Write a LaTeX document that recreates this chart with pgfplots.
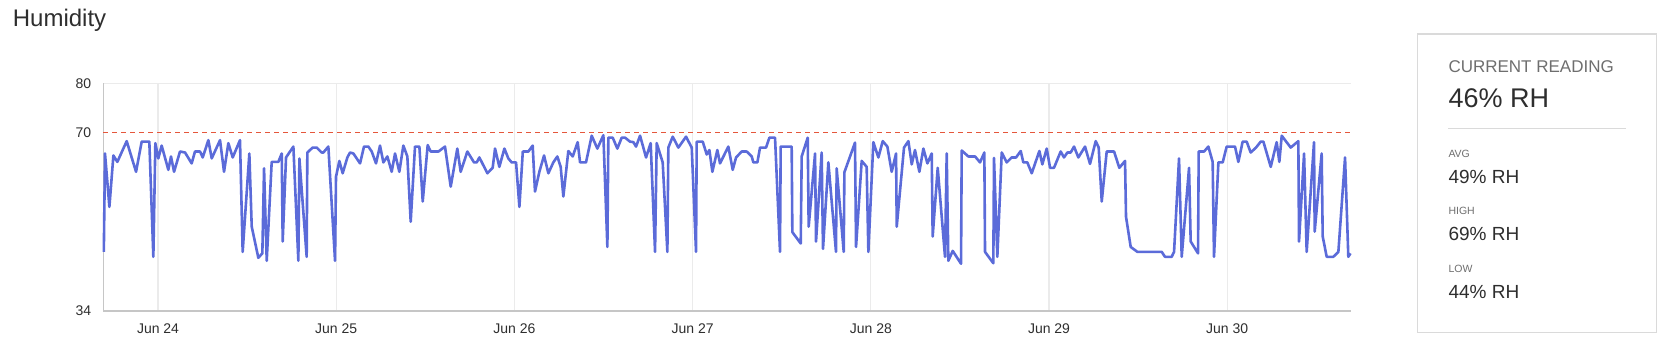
\documentclass[border=0pt]{standalone}
\usepackage{pgfplots}
\pgfplotsset{compat=1.18}
\usepackage{pgfplotstable}
\usepackage{fontspec}
\setmainfont{Liberation Sans}
\definecolor{hline}{HTML}{5B6BD9}
\definecolor{refred}{HTML}{E5573C}
\definecolor{gridgray}{HTML}{EBEBEB}
\definecolor{axgray}{HTML}{C6C6C6}
\definecolor{txtdark}{HTML}{2E2E2E}
\definecolor{txtgray}{HTML}{6E6E6E}
\definecolor{boxgray}{HTML}{DADADA}

\pgfplotstableread{
h v
-7.30 45.9
-7.14 65.8
-6.55 55.0
-6.01 65.4
-5.48 64.1
-4.22 68.3
-2.96 62.1
-2.20 68.2
-1.17 68.2
-0.63 44.9
-0.36 67.9
0.04 64.8
0.49 67.4
1.39 62.5
1.75 65.2
2.16 62.1
2.96 66.2
3.64 66.0
4.53 63.8
4.98 66.2
5.66 66.2
6.02 65.0
6.78 68.5
7.23 64.8
8.35 68.5
8.89 62.1
9.47 67.9
10.06 65.0
11.04 68.5
11.40 45.9
12.30 65.8
12.62 51.0
13.51 44.7
14.05 45.6
14.28 62.8
14.64 44.1
15.31 64.1
16.21 64.1
16.66 65.8
16.79 48.0
17.24 65.0
18.23 67.2
18.90 44.1
19.04 64.8
20.02 44.9
20.11 66.0
20.83 67.0
21.37 67.0
22.04 66.0
22.27 66.0
22.94 67.2
23.84 44.1
23.97 61.1
24.42 64.3
24.87 61.8
25.50 65.0
25.86 66.0
26.31 65.8
27.21 63.8
27.74 67.2
28.33 67.2
28.78 66.2
29.36 63.8
29.90 67.4
30.35 64.0
30.89 65.2
31.47 62.1
31.92 65.8
32.50 62.1
33.04 67.4
33.58 65.2
34.03 52.0
34.61 67.2
35.20 67.2
35.65 56.1
36.32 67.5
36.72 66.2
37.76 66.2
38.65 67.2
39.42 59.1
40.31 66.8
40.76 62.1
41.66 66.2
42.56 64.0
42.92 64.0
43.28 65.0
44.36 61.8
45.07 62.9
45.39 66.8
45.97 63.1
46.65 66.8
47.18 64.8
47.63 64.0
48.22 64.0
48.67 55.0
49.13 66.2
49.88 66.2
50.46 67.4
50.77 58.1
51.36 62.1
51.99 65.4
52.57 61.8
53.24 64.0
53.78 65.2
54.23 63.1
54.59 57.1
55.26 66.3
55.85 65.2
56.52 68.1
56.84 64.0
57.64 64.0
58.41 69.4
59.17 66.8
59.98 69.5
60.52 46.9
60.65 69.0
61.24 69.0
61.86 66.8
62.45 69.0
62.90 69.0
63.57 68.2
64.02 68.1
64.38 67.2
64.92 69.4
65.73 65.0
66.35 67.9
66.94 45.9
67.16 67.9
67.97 64.0
68.60 45.9
68.73 67.0
69.32 69.2
70.08 67.0
71.11 69.2
71.88 67.0
72.46 45.9
72.55 68.2
73.36 68.2
73.90 65.6
74.26 66.5
74.66 62.1
75.33 66.5
75.69 63.8
76.81 67.2
77.40 62.5
77.85 65.0
78.61 66.2
79.28 66.2
79.96 65.2
80.18 64.0
80.72 64.0
81.08 67.0
81.89 67.0
82.34 69.0
83.10 69.0
83.77 45.9
83.86 67.2
85.34 67.2
85.43 49.9
86.56 47.6
86.69 65.2
87.50 69.0
87.63 51.0
88.49 65.8
88.62 48.0
89.38 66.0
89.56 46.5
90.28 64.0
91.31 45.9
91.40 62.8
92.35 45.9
92.44 62.0
93.87 68.0
94.01 46.9
94.77 64.3
95.44 63.1
95.67 45.9
96.34 68.1
97.02 65.0
97.60 68.3
98.23 67.2
98.81 62.1
99.40 65.8
99.49 51.0
100.47 67.0
101.06 68.3
101.51 63.6
101.95 66.5
102.54 62.1
103.08 66.8
103.62 63.8
104.20 65.8
104.33 49.0
105.01 62.9
105.99 44.9
106.22 65.8
106.44 44.1
107.03 46.1
108.15 43.5
108.24 66.4
109.14 65.2
110.04 65.2
110.71 64.0
111.29 66.0
111.38 45.9
112.50 43.6
112.59 64.9
113.04 44.9
113.63 66.0
114.30 64.0
114.97 65.0
115.56 65.0
116.19 66.3
116.54 64.0
117.08 64.0
117.67 61.8
118.70 66.3
119.10 63.6
119.69 66.8
120.14 62.9
120.67 62.9
121.57 66.2
122.02 65.0
122.47 66.0
122.92 66.0
123.37 67.2
123.95 65.0
124.85 67.2
125.52 63.7
126.29 68.3
126.69 67.0
127.10 56.1
127.77 66.2
128.76 66.2
129.47 62.9
130.24 64.3
130.37 53.0
131.00 46.9
131.90 45.9
135.18 45.9
135.62 44.9
136.52 44.9
136.84 45.9
137.51 64.8
137.87 44.9
138.86 62.9
139.08 48.0
140.07 45.6
140.16 66.2
140.88 66.2
141.46 67.2
142.04 64.1
142.22 44.9
142.81 64.0
143.39 64.0
143.93 67.2
145.05 67.2
145.50 64.1
146.08 68.2
146.62 68.2
147.16 66.0
147.88 67.0
148.51 68.2
148.87 68.2
149.86 63.1
150.66 68.1
151.02 64.1
151.34 69.4
152.55 67.0
153.58 68.3
153.67 48.0
154.35 65.8
154.70 45.9
155.69 68.1
155.78 50.0
156.72 65.8
156.86 49.0
157.40 44.9
158.29 44.9
158.97 45.9
159.87 65.0
160.31 44.9
160.60 45.6
}\humid

\begin{document}
\begin{tikzpicture}[x=1pt,y=1pt]
\useasboundingbox (0,0) rectangle (1676,360);
\node[anchor=base west, inner sep=0pt, text=txtdark, font=\fontsize{24}{28}\selectfont] at (12.7,334) {Humidity};
\begin{axis}[
  at={(103.3pt,49.3pt)}, anchor=south west,
  scale only axis, width=1247.4pt, height=227.4pt,
  xmin=-7.37, xmax=160.63, ymin=34, ymax=80,
  axis line style={draw=none},
  xtick={0,24,48,72,96,120,144},
  xticklabels={Jun 24,Jun 25,Jun 26,Jun 27,Jun 28,Jun 29,Jun 30},
  ytick={34,70,80},
  major tick length=0pt,
  xmajorgrids, grid style={draw=gridgray, line width=1.3pt},
  /pgf/number format/assume math mode=true,
  xticklabel style={font=\fontsize{14}{16}\selectfont, text=txtdark, inner sep=0pt, anchor=north, yshift=-13pt},
  yticklabel style={font=\fontsize{14}{16}\selectfont, text=txtdark, inner sep=0pt, anchor=east, xshift=-12pt},
  clip=false,
]
\draw[gridgray, line width=1.3pt] (rel axis cs:0,1) -- (rel axis cs:1,1);
\draw[axgray, line width=1.5pt] (rel axis cs:0,0) -- (rel axis cs:0,1);
\draw[axgray, line width=2pt] (rel axis cs:0,0) -- (rel axis cs:1,0);
\addplot[refred, line width=1.5pt, dash pattern=on 5pt off 4pt] coordinates {(-7.37,70) (160.63,70)};
\addplot[hline, line width=2.6pt, line join=round, no markers] table[x=h, y=v] {\humid};
\end{axis}
% side panel
\draw[boxgray, line width=1.2pt] (1417.3,326) rectangle (1656.7,27.7);
\node[anchor=base west, inner sep=0pt, text=txtgray, font=\fontsize{17}{20}\selectfont] at (1448.3,287.7) {CURRENT READING};
\node[anchor=base west, inner sep=0pt, text=txtdark, font=\fontsize{27}{31}\selectfont] at (1448.3,252.7) {46\% RH};
\draw[boxgray, line width=1pt] (1448.3,231.7) -- (1626,231.7);
\node[anchor=base west, inner sep=0pt, text=txtgray, font=\fontsize{10.5}{12}\selectfont] at (1448.3,202.7) {AVG};
\node[anchor=base west, inner sep=0pt, text=txtdark, font=\fontsize{19}{22}\selectfont] at (1448.3,176.7) {49\% RH};
\node[anchor=base west, inner sep=0pt, text=txtgray, font=\fontsize{10.5}{12}\selectfont] at (1448.3,146) {HIGH};
\node[anchor=base west, inner sep=0pt, text=txtdark, font=\fontsize{19}{22}\selectfont] at (1448.3,120) {69\% RH};
\node[anchor=base west, inner sep=0pt, text=txtgray, font=\fontsize{10.5}{12}\selectfont] at (1448.3,88) {LOW};
\node[anchor=base west, inner sep=0pt, text=txtdark, font=\fontsize{19}{22}\selectfont] at (1448.3,61.7) {44\% RH};
\end{tikzpicture}
\end{document}
